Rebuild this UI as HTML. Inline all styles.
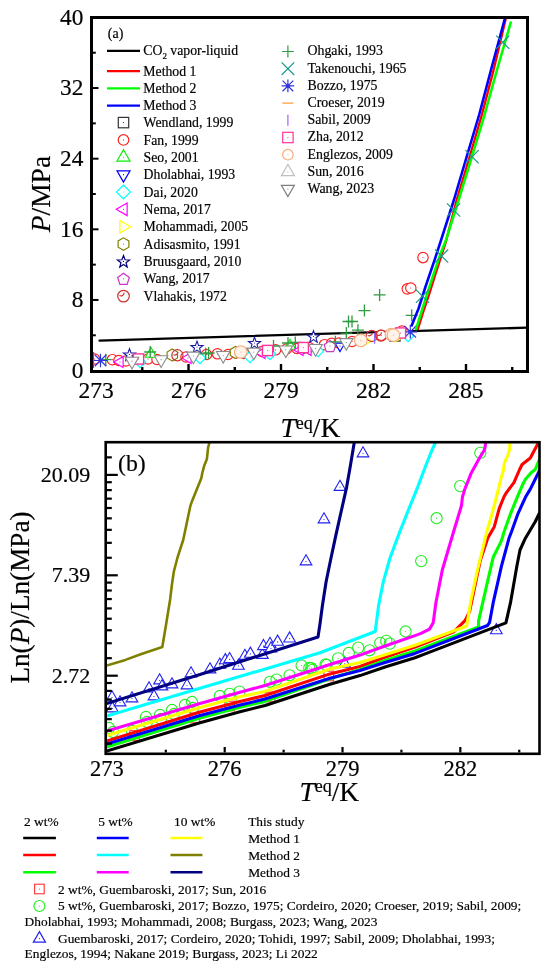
<!DOCTYPE html>
<html><head><meta charset="utf-8"><title>Hydrate equilibrium</title>
<style>html,body{margin:0;padding:0;background:#fff;}svg{display:block;}</style></head>
<body><svg width="550" height="971" viewBox="0 0 550 971" font-family="'Liberation Serif','Times New Roman',serif" fill="#000">
<style>text{stroke:#000;stroke-width:0.18px;paint-order:stroke;}</style>
<rect width="550" height="971" fill="#fff"/>
<clipPath id="ca"><rect x="91.5" y="17.5" width="436" height="354"/></clipPath>
<g clip-path="url(#ca)">
<polyline points="99.6,340.6 527.0,327.6" fill="none" stroke="#000" stroke-width="2.4" stroke-linejoin="round" stroke-linecap="round" />
<rect x="389.90" y="330.90" width="10.20" height="10.20" fill="#fff" stroke="#333333" stroke-width="1.15"/><circle cx="395.00" cy="336.00" r="0.6" fill="#333333"/>
<rect x="294.90" y="342.90" width="10.20" height="10.20" fill="#fff" stroke="#333333" stroke-width="1.15"/><circle cx="300.00" cy="348.00" r="0.6" fill="#333333"/>
<circle cx="94.60" cy="359.00" r="5.20" fill="#fff" stroke="#ff2020" stroke-width="1.15"/><circle cx="94.60" cy="359.00" r="0.6" fill="#ff2020"/>
<circle cx="112.40" cy="359.70" r="5.20" fill="#fff" stroke="#ff2020" stroke-width="1.15"/><circle cx="112.40" cy="359.70" r="0.6" fill="#ff2020"/>
<circle cx="118.90" cy="360.50" r="5.20" fill="#fff" stroke="#ff2020" stroke-width="1.15"/><circle cx="118.90" cy="360.50" r="0.6" fill="#ff2020"/>
<circle cx="148.00" cy="359.00" r="5.20" fill="#fff" stroke="#ff2020" stroke-width="1.15"/><circle cx="148.00" cy="359.00" r="0.6" fill="#ff2020"/>
<circle cx="206.50" cy="354.50" r="5.20" fill="#fff" stroke="#ff2020" stroke-width="1.15"/><circle cx="206.50" cy="354.50" r="0.6" fill="#ff2020"/>
<circle cx="217.40" cy="353.80" r="5.20" fill="#fff" stroke="#ff2020" stroke-width="1.15"/><circle cx="217.40" cy="353.80" r="0.6" fill="#ff2020"/>
<circle cx="275.60" cy="349.80" r="5.20" fill="#fff" stroke="#ff2020" stroke-width="1.15"/><circle cx="275.60" cy="349.80" r="0.6" fill="#ff2020"/>
<circle cx="286.50" cy="349.00" r="5.20" fill="#fff" stroke="#ff2020" stroke-width="1.15"/><circle cx="286.50" cy="349.00" r="0.6" fill="#ff2020"/>
<circle cx="324.50" cy="344.70" r="5.20" fill="#fff" stroke="#ff2020" stroke-width="1.15"/><circle cx="324.50" cy="344.70" r="0.6" fill="#ff2020"/>
<circle cx="331.70" cy="343.30" r="5.20" fill="#fff" stroke="#ff2020" stroke-width="1.15"/><circle cx="331.70" cy="343.30" r="0.6" fill="#ff2020"/>
<circle cx="339.00" cy="343.00" r="5.20" fill="#fff" stroke="#ff2020" stroke-width="1.15"/><circle cx="339.00" cy="343.00" r="0.6" fill="#ff2020"/>
<circle cx="381.20" cy="335.30" r="5.20" fill="#fff" stroke="#ff2020" stroke-width="1.15"/><circle cx="381.20" cy="335.30" r="0.6" fill="#ff2020"/>
<circle cx="402.00" cy="331.00" r="5.20" fill="#fff" stroke="#ff2020" stroke-width="1.15"/><circle cx="402.00" cy="331.00" r="0.6" fill="#ff2020"/>
<circle cx="423.00" cy="257.60" r="5.20" fill="#fff" stroke="#ff2020" stroke-width="1.15"/><circle cx="423.00" cy="257.60" r="0.6" fill="#ff2020"/>
<circle cx="407.30" cy="288.90" r="5.20" fill="#fff" stroke="#ff2020" stroke-width="1.15"/><circle cx="407.30" cy="288.90" r="0.6" fill="#ff2020"/>
<circle cx="410.80" cy="288.00" r="5.20" fill="#fff" stroke="#ff2020" stroke-width="1.15"/><circle cx="410.80" cy="288.00" r="0.6" fill="#ff2020"/>
<circle cx="262.00" cy="351.50" r="5.20" fill="#fff" stroke="#ff2020" stroke-width="1.15"/><circle cx="262.00" cy="351.50" r="0.6" fill="#ff2020"/>
<circle cx="297.00" cy="348.50" r="5.20" fill="#fff" stroke="#ff2020" stroke-width="1.15"/><circle cx="297.00" cy="348.50" r="0.6" fill="#ff2020"/>
<circle cx="309.00" cy="347.50" r="5.20" fill="#fff" stroke="#ff2020" stroke-width="1.15"/><circle cx="309.00" cy="347.50" r="0.6" fill="#ff2020"/>
<circle cx="244.00" cy="353.50" r="5.20" fill="#fff" stroke="#ff2020" stroke-width="1.15"/><circle cx="244.00" cy="353.50" r="0.6" fill="#ff2020"/>
<circle cx="228.00" cy="354.50" r="5.20" fill="#fff" stroke="#ff2020" stroke-width="1.15"/><circle cx="228.00" cy="354.50" r="0.6" fill="#ff2020"/>
<circle cx="186.00" cy="357.00" r="5.20" fill="#fff" stroke="#ff2020" stroke-width="1.15"/><circle cx="186.00" cy="357.00" r="0.6" fill="#ff2020"/>
<circle cx="157.00" cy="359.50" r="5.20" fill="#fff" stroke="#ff2020" stroke-width="1.15"/><circle cx="157.00" cy="359.50" r="0.6" fill="#ff2020"/>
<circle cx="126.00" cy="361.00" r="5.20" fill="#fff" stroke="#ff2020" stroke-width="1.15"/><circle cx="126.00" cy="361.00" r="0.6" fill="#ff2020"/>
<circle cx="352.00" cy="341.50" r="5.20" fill="#fff" stroke="#ff2020" stroke-width="1.15"/><circle cx="352.00" cy="341.50" r="0.6" fill="#ff2020"/>
<circle cx="236.00" cy="353.00" r="5.20" fill="#fff" stroke="#ff2020" stroke-width="1.15"/><circle cx="236.00" cy="353.00" r="0.6" fill="#ff2020"/>
<polygon points="151.00,347.50 156.63,357.25 145.37,357.25" fill="#fff" stroke="#00ee00" stroke-width="1.15" stroke-linejoin="miter"/><circle cx="151.00" cy="354.00" r="0.6" fill="#00ee00"/>
<polygon points="290.00,339.50 295.63,349.25 284.37,349.25" fill="#fff" stroke="#00ee00" stroke-width="1.15" stroke-linejoin="miter"/><circle cx="290.00" cy="346.00" r="0.6" fill="#00ee00"/>
<polygon points="340.00,351.62 335.13,343.19 344.87,343.19" fill="#fff" stroke="#0000ff" stroke-width="1.15" stroke-linejoin="miter"/><circle cx="340.00" cy="346.00" r="0.6" fill="#0000ff"/>
<polygon points="408.00,330.24 413.76,336.00 408.00,341.76 402.24,336.00" fill="#fff" stroke="#00ffff" stroke-width="1.15"/><circle cx="408.00" cy="336.00" r="0.6" fill="#00ffff"/>
<polygon points="270.00,348.24 275.76,354.00 270.00,359.76 264.24,354.00" fill="#fff" stroke="#00ffff" stroke-width="1.15"/><circle cx="270.00" cy="354.00" r="0.6" fill="#00ffff"/>
<polygon points="318.00,345.24 323.76,351.00 318.00,356.76 312.24,351.00" fill="#fff" stroke="#00ffff" stroke-width="1.15"/><circle cx="318.00" cy="351.00" r="0.6" fill="#00ffff"/>
<polygon points="250.00,351.24 255.76,357.00 250.00,362.76 244.24,357.00" fill="#fff" stroke="#00ffff" stroke-width="1.15"/><circle cx="250.00" cy="357.00" r="0.6" fill="#00ffff"/>
<polygon points="200.00,352.24 205.76,358.00 200.00,363.76 194.24,358.00" fill="#fff" stroke="#00ffff" stroke-width="1.15"/><circle cx="200.00" cy="358.00" r="0.6" fill="#00ffff"/>
<polygon points="140.00,356.24 145.76,362.00 140.00,367.76 134.24,362.00" fill="#fff" stroke="#00ffff" stroke-width="1.15"/><circle cx="140.00" cy="362.00" r="0.6" fill="#00ffff"/>
<polygon points="293.75,350.00 303.12,344.59 303.12,355.41" fill="#fff" stroke="#ff00ff" stroke-width="1.15" stroke-linejoin="miter"/><circle cx="300.00" cy="350.00" r="0.6" fill="#ff00ff"/>
<polygon points="255.75,353.00 265.12,347.59 265.12,358.41" fill="#fff" stroke="#ff00ff" stroke-width="1.15" stroke-linejoin="miter"/><circle cx="262.00" cy="353.00" r="0.6" fill="#ff00ff"/>
<polygon points="301.75,350.00 311.12,344.59 311.12,355.41" fill="#fff" stroke="#ff00ff" stroke-width="1.15" stroke-linejoin="miter"/><circle cx="308.00" cy="350.00" r="0.6" fill="#ff00ff"/>
<polygon points="181.75,358.00 191.12,352.59 191.12,363.41" fill="#fff" stroke="#ff00ff" stroke-width="1.15" stroke-linejoin="miter"/><circle cx="188.00" cy="358.00" r="0.6" fill="#ff00ff"/>
<polygon points="113.75,362.00 123.12,356.59 123.12,367.41" fill="#fff" stroke="#ff00ff" stroke-width="1.15" stroke-linejoin="miter"/><circle cx="120.00" cy="362.00" r="0.6" fill="#ff00ff"/>
<polygon points="371.62,341.00 363.19,345.87 363.19,336.13" fill="#fff" stroke="#ffff00" stroke-width="1.15" stroke-linejoin="miter"/><circle cx="366.00" cy="341.00" r="0.6" fill="#ffff00"/>
<polygon points="403.62,337.00 395.19,341.87 395.19,332.13" fill="#fff" stroke="#ffff00" stroke-width="1.15" stroke-linejoin="miter"/><circle cx="398.00" cy="337.00" r="0.6" fill="#ffff00"/>
<polygon points="172.30,361.00 167.10,358.00 167.10,352.00 172.30,349.00 177.50,352.00 177.50,358.00" fill="#fff" stroke="#808000" stroke-width="1.15"/><circle cx="172.30" cy="355.00" r="0.6" fill="#808000"/>
<polygon points="235.50,358.40 230.30,355.40 230.30,349.40 235.50,346.40 240.70,349.40 240.70,355.40" fill="#fff" stroke="#808000" stroke-width="1.15"/><circle cx="235.50" cy="352.40" r="0.6" fill="#808000"/>
<polygon points="129.50,348.64 131.06,352.86 135.55,353.03 132.02,355.82 133.24,360.15 129.50,357.65 125.76,360.15 126.98,355.82 123.45,353.03 127.94,352.86" fill="#fff" stroke="#1a1aa0" stroke-width="1.1"/><circle cx="129.50" cy="354.50" r="0.6" fill="#1a1aa0"/>
<polygon points="197.00,341.14 198.56,345.36 203.05,345.53 199.52,348.32 200.74,352.65 197.00,350.15 193.26,352.65 194.48,348.32 190.95,345.53 195.44,345.36" fill="#fff" stroke="#1a1aa0" stroke-width="1.1"/><circle cx="197.00" cy="347.00" r="0.6" fill="#1a1aa0"/>
<polygon points="254.50,337.14 256.06,341.36 260.55,341.53 257.02,344.32 258.24,348.65 254.50,346.15 250.76,348.65 251.98,344.32 248.45,341.53 252.94,341.36" fill="#fff" stroke="#1a1aa0" stroke-width="1.1"/><circle cx="254.50" cy="343.00" r="0.6" fill="#1a1aa0"/>
<polygon points="313.50,330.64 315.06,334.86 319.55,335.03 316.02,337.82 317.24,342.15 313.50,339.65 309.76,342.15 310.98,337.82 307.45,335.03 311.94,334.86" fill="#fff" stroke="#1a1aa0" stroke-width="1.1"/><circle cx="313.50" cy="336.50" r="0.6" fill="#1a1aa0"/>
<polygon points="330.00,340.44 335.86,344.70 333.62,351.58 326.38,351.58 324.14,344.70" fill="#fff" stroke="#c040c0" stroke-width="1.15"/><circle cx="330.00" cy="346.00" r="0.6" fill="#c040c0"/>
<circle cx="177.40" cy="355.30" r="5.60" fill="none" stroke="#cc3333" stroke-width="1.15"/><path d="M173.48,354.74 A3.08,3.08 0 0 0 177.96,351.94" fill="none" stroke="#cc3333" stroke-width="1.15"/>
<circle cx="371.70" cy="336.00" r="5.60" fill="none" stroke="#cc3333" stroke-width="1.15"/><path d="M367.78,335.44 A3.08,3.08 0 0 0 372.26,332.64" fill="none" stroke="#cc3333" stroke-width="1.15"/>
<circle cx="380.90" cy="335.60" r="5.60" fill="none" stroke="#cc3333" stroke-width="1.15"/><path d="M376.98,335.04 A3.08,3.08 0 0 0 381.46,332.24" fill="none" stroke="#cc3333" stroke-width="1.15"/>
<path d="M99.80,359.70H111.80M105.80,353.70V365.70" stroke="#2e9b3e" stroke-width="1.3"/>
<path d="M144.20,352.00H156.20M150.20,346.00V358.00" stroke="#2e9b3e" stroke-width="1.3"/>
<path d="M199.70,353.80H211.70M205.70,347.80V359.80" stroke="#2e9b3e" stroke-width="1.3"/>
<path d="M202.60,353.00H214.60M208.60,347.00V359.00" stroke="#2e9b3e" stroke-width="1.3"/>
<path d="M267.50,346.00H279.50M273.50,340.00V352.00" stroke="#2e9b3e" stroke-width="1.3"/>
<path d="M282.00,343.00H294.00M288.00,337.00V349.00" stroke="#2e9b3e" stroke-width="1.3"/>
<path d="M289.30,342.50H301.30M295.30,336.50V348.50" stroke="#2e9b3e" stroke-width="1.3"/>
<path d="M329.40,341.80H341.40M335.40,335.80V347.80" stroke="#2e9b3e" stroke-width="1.3"/>
<path d="M340.30,333.10H352.30M346.30,327.10V339.10" stroke="#2e9b3e" stroke-width="1.3"/>
<path d="M351.90,330.20H363.90M357.90,324.20V336.20" stroke="#2e9b3e" stroke-width="1.3"/>
<path d="M342.50,321.50H354.50M348.50,315.50V327.50" stroke="#2e9b3e" stroke-width="1.3"/>
<path d="M346.00,321.50H358.00M352.00,315.50V327.50" stroke="#2e9b3e" stroke-width="1.3"/>
<path d="M358.40,310.60H370.40M364.40,304.60V316.60" stroke="#2e9b3e" stroke-width="1.3"/>
<path d="M373.60,294.90H385.60M379.60,288.90V300.90" stroke="#2e9b3e" stroke-width="1.3"/>
<path d="M405.70,315.30H417.70M411.70,309.30V321.30" stroke="#2e9b3e" stroke-width="1.3"/>
<path d="M93.70,360.50H107.30M100.50,353.70V367.30M94.72,354.72L106.28,366.28M94.72,366.28L106.28,354.72" stroke="#3333dd" stroke-width="1.2"/><circle cx="100.50" cy="360.50" r="2" fill="#3333dd"/>
<path d="M403.50,331.80H417.10M410.30,325.00V338.60M404.52,326.02L416.08,337.58M404.52,337.58L416.08,326.02" stroke="#3333dd" stroke-width="1.2"/><circle cx="410.30" cy="331.80" r="2" fill="#3333dd"/>
<path d="M374.60,332.70V343.70" stroke="#9966ff" stroke-width="1.3"/>
<rect x="133.40" y="353.90" width="10.20" height="10.20" fill="#fff" stroke="#ff3399" stroke-width="1.4"/><circle cx="138.50" cy="359.00" r="0.6" fill="#ff3399"/>
<rect x="262.50" y="345.40" width="10.20" height="10.20" fill="#fff" stroke="#ff3399" stroke-width="1.4"/><circle cx="267.60" cy="350.50" r="0.6" fill="#ff3399"/>
<rect x="298.20" y="342.50" width="10.20" height="10.20" fill="#fff" stroke="#ff3399" stroke-width="1.4"/><circle cx="303.30" cy="347.60" r="0.6" fill="#ff3399"/>
<rect x="395.40" y="327.90" width="10.20" height="10.20" fill="#fff" stroke="#ff3399" stroke-width="1.4"/><circle cx="400.50" cy="333.00" r="0.6" fill="#ff3399"/>
<circle cx="240.70" cy="352.00" r="6.30" fill="#fff2e8" stroke="#f5a878" stroke-width="1.1"/><circle cx="240.70" cy="352.00" r="0.6" fill="#f5a878"/>
<circle cx="360.80" cy="340.40" r="6.30" fill="#fff2e8" stroke="#f5a878" stroke-width="1.1"/><circle cx="360.80" cy="340.40" r="0.6" fill="#f5a878"/>
<circle cx="391.40" cy="334.50" r="6.30" fill="#fff2e8" stroke="#f5a878" stroke-width="1.1"/><circle cx="391.40" cy="334.50" r="0.6" fill="#f5a878"/>
<circle cx="393.40" cy="335.10" r="6.30" fill="#fff2e8" stroke="#f5a878" stroke-width="1.1"/><circle cx="393.40" cy="335.10" r="0.6" fill="#f5a878"/>
<polygon points="132.00,368.95 125.29,357.32 138.71,357.32" fill="#fff" stroke="#8a8a8a" stroke-width="1.1" stroke-linejoin="miter"/><circle cx="132.00" cy="361.20" r="0.6" fill="#8a8a8a"/>
<polygon points="161.10,367.45 154.39,355.82 167.81,355.82" fill="#fff" stroke="#8a8a8a" stroke-width="1.1" stroke-linejoin="miter"/><circle cx="161.10" cy="359.70" r="0.6" fill="#8a8a8a"/>
<polygon points="193.40,363.75 186.69,352.12 200.11,352.12" fill="#fff" stroke="#8a8a8a" stroke-width="1.1" stroke-linejoin="miter"/><circle cx="193.40" cy="356.00" r="0.6" fill="#8a8a8a"/>
<polygon points="223.20,363.05 216.49,351.43 229.91,351.43" fill="#fff" stroke="#8a8a8a" stroke-width="1.1" stroke-linejoin="miter"/><circle cx="223.20" cy="355.30" r="0.6" fill="#8a8a8a"/>
<polygon points="253.80,359.75 247.09,348.12 260.51,348.12" fill="#fff" stroke="#8a8a8a" stroke-width="1.1" stroke-linejoin="miter"/><circle cx="253.80" cy="352.00" r="0.6" fill="#8a8a8a"/>
<polygon points="285.80,357.55 279.09,345.93 292.51,345.93" fill="#fff" stroke="#8a8a8a" stroke-width="1.1" stroke-linejoin="miter"/><circle cx="285.80" cy="349.80" r="0.6" fill="#8a8a8a"/>
<polygon points="315.60,356.15 308.89,344.52 322.31,344.52" fill="#fff" stroke="#8a8a8a" stroke-width="1.1" stroke-linejoin="miter"/><circle cx="315.60" cy="348.40" r="0.6" fill="#8a8a8a"/>
<polygon points="346.30,350.25 339.59,338.62 353.01,338.62" fill="#fff" stroke="#8a8a8a" stroke-width="1.1" stroke-linejoin="miter"/><circle cx="346.30" cy="342.50" r="0.6" fill="#8a8a8a"/>
<polyline points="417.9,329.0 423.5,311.0 429.8,292.0 434.5,277.0 440.0,260.0 445.5,243.0 456.7,200.0 469.3,158.0 481.8,115.0 493.7,69.5 505.8,18.5" fill="none" stroke="#ff0000" stroke-width="2.4" stroke-linejoin="round" stroke-linecap="round" />
<polyline points="416.1,329.0 422.5,308.5 429.4,287.0 440.1,254.7 446.0,240.0 458.6,200.0 471.5,158.0 484.5,115.0 497.1,69.5 510.7,22.6" fill="none" stroke="#00ff00" stroke-width="2.6" stroke-linejoin="round" stroke-linecap="round" />
<polyline points="411.7,325.4 418.6,308.5 425.4,287.0 434.7,259.6 441.1,240.0 453.9,200.0 466.3,158.0 479.1,115.0 491.1,69.5 504.2,21.0 505.0,18.5" fill="none" stroke="#0000ff" stroke-width="2.6" stroke-linejoin="round" stroke-linecap="round" />
<path d="M496.20,35.60L509.40,48.80M496.20,48.80L509.40,35.60" stroke="#1a9a8a" stroke-width="1.2"/>
<path d="M465.50,150.20L478.70,163.40M465.50,163.40L478.70,150.20" stroke="#1a9a8a" stroke-width="1.2"/>
<path d="M447.00,203.40L460.20,216.60M447.00,216.60L460.20,203.40" stroke="#1a9a8a" stroke-width="1.2"/>
<path d="M435.00,249.50L448.20,262.70M435.00,262.70L448.20,249.50" stroke="#1a9a8a" stroke-width="1.2"/>
<path d="M415.90,289.70L429.10,302.90M415.90,302.90L429.10,289.70" stroke="#1a9a8a" stroke-width="1.2"/>
<line x1="93.30" y1="352.00" x2="93.30" y2="368.00" stroke="#ff00ff" stroke-width="1.6" stroke-linecap="butt"/>
</g>
<rect x="91.5" y="17.5" width="436.0" height="354.0" fill="none" stroke="#000" stroke-width="3"/>
<line x1="93.00" y1="335.28" x2="95.80" y2="335.28" stroke="#000" stroke-width="2" stroke-linecap="butt"/>
<line x1="93.00" y1="299.96" x2="98.50" y2="299.96" stroke="#000" stroke-width="2" stroke-linecap="butt"/>
<line x1="93.00" y1="264.64" x2="95.80" y2="264.64" stroke="#000" stroke-width="2" stroke-linecap="butt"/>
<line x1="93.00" y1="229.32" x2="98.50" y2="229.32" stroke="#000" stroke-width="2" stroke-linecap="butt"/>
<line x1="93.00" y1="194.00" x2="95.80" y2="194.00" stroke="#000" stroke-width="2" stroke-linecap="butt"/>
<line x1="93.00" y1="158.68" x2="98.50" y2="158.68" stroke="#000" stroke-width="2" stroke-linecap="butt"/>
<line x1="93.00" y1="123.36" x2="95.80" y2="123.36" stroke="#000" stroke-width="2" stroke-linecap="butt"/>
<line x1="93.00" y1="88.04" x2="98.50" y2="88.04" stroke="#000" stroke-width="2" stroke-linecap="butt"/>
<line x1="93.00" y1="52.72" x2="95.80" y2="52.72" stroke="#000" stroke-width="2" stroke-linecap="butt"/>
<line x1="142.28" y1="370.00" x2="142.28" y2="367.00" stroke="#000" stroke-width="2.4" stroke-linecap="butt"/>
<line x1="188.52" y1="370.00" x2="188.52" y2="364.00" stroke="#000" stroke-width="2.4" stroke-linecap="butt"/>
<line x1="234.77" y1="370.00" x2="234.77" y2="367.00" stroke="#000" stroke-width="2.4" stroke-linecap="butt"/>
<line x1="281.01" y1="370.00" x2="281.01" y2="364.00" stroke="#000" stroke-width="2.4" stroke-linecap="butt"/>
<line x1="327.25" y1="370.00" x2="327.25" y2="367.00" stroke="#000" stroke-width="2.4" stroke-linecap="butt"/>
<line x1="373.50" y1="370.00" x2="373.50" y2="364.00" stroke="#000" stroke-width="2.4" stroke-linecap="butt"/>
<line x1="419.75" y1="370.00" x2="419.75" y2="367.00" stroke="#000" stroke-width="2.4" stroke-linecap="butt"/>
<line x1="465.99" y1="370.00" x2="465.99" y2="364.00" stroke="#000" stroke-width="2.4" stroke-linecap="butt"/>
<line x1="512.24" y1="370.00" x2="512.24" y2="367.00" stroke="#000" stroke-width="2.4" stroke-linecap="butt"/>
<text x="83.30" y="377.90" font-size="23.3" text-anchor="end" >0</text>
<text x="83.30" y="307.26" font-size="23.3" text-anchor="end" >8</text>
<text x="83.30" y="236.62" font-size="23.3" text-anchor="end" >16</text>
<text x="83.30" y="165.98" font-size="23.3" text-anchor="end" >24</text>
<text x="83.30" y="95.34" font-size="23.3" text-anchor="end" >32</text>
<text x="83.30" y="24.70" font-size="23.3" text-anchor="end" >40</text>
<text x="96.03" y="398.30" font-size="23.5" text-anchor="middle" >273</text>
<text x="188.52" y="398.30" font-size="23.5" text-anchor="middle" >276</text>
<text x="281.01" y="398.30" font-size="23.5" text-anchor="middle" >279</text>
<text x="373.50" y="398.30" font-size="23.5" text-anchor="middle" >282</text>
<text x="465.99" y="398.30" font-size="23.5" text-anchor="middle" >285</text>
<text transform="translate(49.5,194.1) rotate(-90)" font-size="27.5" text-anchor="middle"><tspan font-style="italic">P</tspan>/MPa</text>
<text x="280.5" y="436.8" font-size="27.5"><tspan font-style="italic">T</tspan><tspan font-size="18" dy="-8.3">eq</tspan><tspan dy="8.3">/K</tspan></text>
<text x="107.80" y="37.80" font-size="14" text-anchor="start" >(a)</text>
<line x1="107.00" y1="50.90" x2="140.00" y2="50.90" stroke="#000" stroke-width="2.2" stroke-linecap="butt"/>
<line x1="107.00" y1="71.10" x2="140.00" y2="71.10" stroke="#ff0000" stroke-width="2.2" stroke-linecap="butt"/>
<line x1="107.00" y1="88.30" x2="140.00" y2="88.30" stroke="#00ff00" stroke-width="2.2" stroke-linecap="butt"/>
<line x1="107.00" y1="105.70" x2="140.00" y2="105.70" stroke="#0000ff" stroke-width="2.2" stroke-linecap="butt"/>
<text x="143.3" y="55.3" font-size="13.75">CO<tspan font-size="9" dy="3.8">2</tspan><tspan dy="-3.8"> vapor-liquid</tspan></text>
<text x="143.30" y="75.50" font-size="13.75" text-anchor="start" >Method 1</text>
<text x="143.30" y="92.90" font-size="13.75" text-anchor="start" >Method 2</text>
<text x="143.30" y="110.40" font-size="13.75" text-anchor="start" >Method 3</text>
<rect x="118.30" y="117.40" width="10.40" height="10.40" fill="none" stroke="#333333" stroke-width="1.2"/><circle cx="123.50" cy="122.60" r="0.6" fill="#333333"/>
<text x="143.60" y="127.20" font-size="13.75" text-anchor="start" >Wendland, 1999</text>
<circle cx="123.50" cy="139.95" r="5.30" fill="none" stroke="#ff2020" stroke-width="1.2"/><circle cx="123.50" cy="139.95" r="0.6" fill="#ff2020"/>
<text x="143.60" y="144.55" font-size="13.75" text-anchor="start" >Fan, 1999</text>
<polygon points="123.50,149.80 130.00,161.05 117.00,161.05" fill="none" stroke="#00ee00" stroke-width="1.2" stroke-linejoin="miter"/><circle cx="123.50" cy="157.30" r="0.6" fill="#00ee00"/>
<text x="143.60" y="161.90" font-size="13.75" text-anchor="start" >Seo, 2001</text>
<polygon points="123.50,182.15 117.00,170.90 130.00,170.90" fill="none" stroke="#0000ff" stroke-width="1.2" stroke-linejoin="miter"/><circle cx="123.50" cy="174.65" r="0.6" fill="#0000ff"/>
<text x="143.60" y="179.25" font-size="13.75" text-anchor="start" >Dholabhai, 1993</text>
<polygon points="123.50,185.04 130.46,192.00 123.50,198.96 116.54,192.00" fill="none" stroke="#00ffff" stroke-width="1.2"/><circle cx="123.50" cy="192.00" r="0.6" fill="#00ffff"/>
<text x="143.60" y="196.60" font-size="13.75" text-anchor="start" >Dai, 2020</text>
<polygon points="116.25,209.35 127.12,203.07 127.12,215.63" fill="none" stroke="#ff00ff" stroke-width="1.2" stroke-linejoin="miter"/><circle cx="123.50" cy="209.35" r="0.6" fill="#ff00ff"/>
<text x="143.60" y="213.95" font-size="13.75" text-anchor="start" >Nema, 2017</text>
<polygon points="130.75,226.70 119.88,232.98 119.88,220.42" fill="none" stroke="#ffff00" stroke-width="1.2" stroke-linejoin="miter"/><circle cx="123.50" cy="226.70" r="0.6" fill="#ffff00"/>
<text x="143.60" y="231.30" font-size="13.75" text-anchor="start" >Mohammadi, 2005</text>
<polygon points="123.50,250.25 118.13,247.15 118.13,240.95 123.50,237.85 128.87,240.95 128.87,247.15" fill="none" stroke="#808000" stroke-width="1.2"/><circle cx="123.50" cy="244.05" r="0.6" fill="#808000"/>
<text x="143.60" y="248.65" font-size="13.75" text-anchor="start" >Adisasmito, 1991</text>
<polygon points="123.50,255.54 125.06,259.76 129.55,259.93 126.02,262.72 127.24,267.05 123.50,264.55 119.76,267.05 120.98,262.72 117.45,259.93 121.94,259.76" fill="none" stroke="#000080" stroke-width="1.2"/><circle cx="123.50" cy="261.40" r="0.6" fill="#000080"/>
<text x="143.60" y="266.00" font-size="13.75" text-anchor="start" >Bruusgaard, 2010</text>
<polygon points="123.50,273.19 129.36,277.45 127.12,284.33 119.88,284.33 117.64,277.45" fill="none" stroke="#cc33cc" stroke-width="1.2"/><circle cx="123.50" cy="278.75" r="0.6" fill="#cc33cc"/>
<text x="143.60" y="283.35" font-size="13.75" text-anchor="start" >Wang, 2017</text>
<circle cx="123.50" cy="296.10" r="5.80" fill="none" stroke="#cc3333" stroke-width="1.2"/><path d="M119.44,295.52 A3.19,3.19 0 0 0 124.08,292.62" fill="none" stroke="#cc3333" stroke-width="1.2"/>
<text x="143.60" y="300.70" font-size="13.75" text-anchor="start" >Vlahakis, 1972</text>
<path d="M281.90,51.50H293.90M287.90,45.50V57.50" stroke="#2e9b3e" stroke-width="1.2"/>
<text x="307.50" y="55.40" font-size="13.85" text-anchor="start" >Ohgaki, 1993</text>
<path d="M281.60,62.40L294.20,75.00M281.60,75.00L294.20,62.40" stroke="#1a9a8a" stroke-width="1.2"/>
<text x="307.50" y="72.60" font-size="13.85" text-anchor="start" >Takenouchi, 1965</text>
<path d="M281.60,85.90H294.20M287.90,79.60V92.20M282.54,80.55L293.25,91.26M282.54,91.26L293.25,80.55" stroke="#3333dd" stroke-width="1.2"/><circle cx="287.90" cy="85.90" r="2" fill="#3333dd"/>
<text x="307.50" y="89.80" font-size="13.85" text-anchor="start" >Bozzo, 1975</text>
<path d="M282.40,103.10H293.40" stroke="#ff9933" stroke-width="1.2"/>
<text x="307.50" y="107.00" font-size="13.85" text-anchor="start" >Croeser, 2019</text>
<path d="M287.90,114.80V125.80" stroke="#9966ff" stroke-width="1.2"/>
<text x="307.50" y="124.20" font-size="13.85" text-anchor="start" >Sabil, 2009</text>
<rect x="282.70" y="132.30" width="10.40" height="10.40" fill="none" stroke="#ff3399" stroke-width="1.2"/><circle cx="287.90" cy="137.50" r="0.6" fill="#ff3399"/>
<text x="307.50" y="141.40" font-size="13.85" text-anchor="start" >Zha, 2012</text>
<circle cx="287.90" cy="154.70" r="5.30" fill="none" stroke="#ffaa77" stroke-width="1.2"/><circle cx="287.90" cy="154.70" r="0.6" fill="#ffaa77"/>
<text x="307.50" y="158.60" font-size="13.85" text-anchor="start" >Englezos, 2009</text>
<polygon points="287.90,164.40 294.40,175.65 281.40,175.65" fill="none" stroke="#c0c0c0" stroke-width="1.2" stroke-linejoin="miter"/><circle cx="287.90" cy="171.90" r="0.6" fill="#c0c0c0"/>
<text x="307.50" y="175.80" font-size="13.85" text-anchor="start" >Sun, 2016</text>
<polygon points="287.90,196.60 281.40,185.35 294.40,185.35" fill="none" stroke="#808080" stroke-width="1.2" stroke-linejoin="miter"/><circle cx="287.90" cy="189.10" r="0.6" fill="#808080"/>
<text x="307.50" y="193.00" font-size="13.85" text-anchor="start" >Wang, 2023</text>
<clipPath id="cb"><rect x="105.7" y="442.2" width="433.8" height="311.6"/></clipPath>
<g clip-path="url(#cb)">
<polygon points="112.00,690.75 117.85,700.88 106.15,700.88" fill="#fff" stroke="#2222ee" stroke-width="1.1" stroke-linejoin="miter"/><circle cx="112.00" cy="697.50" r="0.6" fill="#2222ee"/>
<polygon points="112.40,701.75 118.25,711.88 106.55,711.88" fill="#fff" stroke="#2222ee" stroke-width="1.1" stroke-linejoin="miter"/><circle cx="112.40" cy="708.50" r="0.6" fill="#2222ee"/>
<polygon points="120.00,695.75 125.85,705.88 114.15,705.88" fill="#fff" stroke="#2222ee" stroke-width="1.1" stroke-linejoin="miter"/><circle cx="120.00" cy="702.50" r="0.6" fill="#2222ee"/>
<polygon points="132.00,691.75 137.85,701.88 126.15,701.88" fill="#fff" stroke="#2222ee" stroke-width="1.1" stroke-linejoin="miter"/><circle cx="132.00" cy="698.50" r="0.6" fill="#2222ee"/>
<polygon points="149.00,681.75 154.85,691.88 143.15,691.88" fill="#fff" stroke="#2222ee" stroke-width="1.1" stroke-linejoin="miter"/><circle cx="149.00" cy="688.50" r="0.6" fill="#2222ee"/>
<polygon points="154.00,689.75 159.85,699.88 148.15,699.88" fill="#fff" stroke="#2222ee" stroke-width="1.1" stroke-linejoin="miter"/><circle cx="154.00" cy="696.50" r="0.6" fill="#2222ee"/>
<polygon points="159.60,673.75 165.45,683.88 153.75,683.88" fill="#fff" stroke="#2222ee" stroke-width="1.1" stroke-linejoin="miter"/><circle cx="159.60" cy="680.50" r="0.6" fill="#2222ee"/>
<polygon points="162.00,679.75 167.85,689.88 156.15,689.88" fill="#fff" stroke="#2222ee" stroke-width="1.1" stroke-linejoin="miter"/><circle cx="162.00" cy="686.50" r="0.6" fill="#2222ee"/>
<polygon points="172.00,677.75 177.85,687.88 166.15,687.88" fill="#fff" stroke="#2222ee" stroke-width="1.1" stroke-linejoin="miter"/><circle cx="172.00" cy="684.50" r="0.6" fill="#2222ee"/>
<polygon points="187.00,678.75 192.85,688.88 181.15,688.88" fill="#fff" stroke="#2222ee" stroke-width="1.1" stroke-linejoin="miter"/><circle cx="187.00" cy="685.50" r="0.6" fill="#2222ee"/>
<polygon points="191.00,666.75 196.85,676.88 185.15,676.88" fill="#fff" stroke="#2222ee" stroke-width="1.1" stroke-linejoin="miter"/><circle cx="191.00" cy="673.50" r="0.6" fill="#2222ee"/>
<polygon points="210.00,662.75 215.85,672.88 204.15,672.88" fill="#fff" stroke="#2222ee" stroke-width="1.1" stroke-linejoin="miter"/><circle cx="210.00" cy="669.50" r="0.6" fill="#2222ee"/>
<polygon points="219.80,658.05 225.65,668.17 213.95,668.17" fill="#fff" stroke="#2222ee" stroke-width="1.1" stroke-linejoin="miter"/><circle cx="219.80" cy="664.80" r="0.6" fill="#2222ee"/>
<polygon points="225.30,653.65 231.15,663.77 219.45,663.77" fill="#fff" stroke="#2222ee" stroke-width="1.1" stroke-linejoin="miter"/><circle cx="225.30" cy="660.40" r="0.6" fill="#2222ee"/>
<polygon points="229.60,652.55 235.45,662.67 223.75,662.67" fill="#fff" stroke="#2222ee" stroke-width="1.1" stroke-linejoin="miter"/><circle cx="229.60" cy="659.30" r="0.6" fill="#2222ee"/>
<polygon points="238.40,659.15 244.25,669.27 232.55,669.27" fill="#fff" stroke="#2222ee" stroke-width="1.1" stroke-linejoin="miter"/><circle cx="238.40" cy="665.90" r="0.6" fill="#2222ee"/>
<polygon points="244.90,649.25 250.75,659.38 239.05,659.38" fill="#fff" stroke="#2222ee" stroke-width="1.1" stroke-linejoin="miter"/><circle cx="244.90" cy="656.00" r="0.6" fill="#2222ee"/>
<polygon points="250.40,647.15 256.25,657.27 244.55,657.27" fill="#fff" stroke="#2222ee" stroke-width="1.1" stroke-linejoin="miter"/><circle cx="250.40" cy="653.90" r="0.6" fill="#2222ee"/>
<polygon points="262.40,648.25 268.25,658.38 256.55,658.38" fill="#fff" stroke="#2222ee" stroke-width="1.1" stroke-linejoin="miter"/><circle cx="262.40" cy="655.00" r="0.6" fill="#2222ee"/>
<polygon points="263.50,639.45 269.35,649.58 257.65,649.58" fill="#fff" stroke="#2222ee" stroke-width="1.1" stroke-linejoin="miter"/><circle cx="263.50" cy="646.20" r="0.6" fill="#2222ee"/>
<polygon points="270.00,637.25 275.85,647.38 264.15,647.38" fill="#fff" stroke="#2222ee" stroke-width="1.1" stroke-linejoin="miter"/><circle cx="270.00" cy="644.00" r="0.6" fill="#2222ee"/>
<polygon points="271.00,641.75 276.85,651.88 265.15,651.88" fill="#fff" stroke="#2222ee" stroke-width="1.1" stroke-linejoin="miter"/><circle cx="271.00" cy="648.50" r="0.6" fill="#2222ee"/>
<polygon points="277.60,635.15 283.45,645.27 271.75,645.27" fill="#fff" stroke="#2222ee" stroke-width="1.1" stroke-linejoin="miter"/><circle cx="277.60" cy="641.90" r="0.6" fill="#2222ee"/>
<polygon points="289.60,631.85 295.45,641.98 283.75,641.98" fill="#fff" stroke="#2222ee" stroke-width="1.1" stroke-linejoin="miter"/><circle cx="289.60" cy="638.60" r="0.6" fill="#2222ee"/>
<polygon points="306.00,554.75 311.85,564.88 300.15,564.88" fill="#fff" stroke="#2222ee" stroke-width="1.1" stroke-linejoin="miter"/><circle cx="306.00" cy="561.50" r="0.6" fill="#2222ee"/>
<polygon points="324.00,512.75 329.85,522.88 318.15,522.88" fill="#fff" stroke="#2222ee" stroke-width="1.1" stroke-linejoin="miter"/><circle cx="324.00" cy="519.50" r="0.6" fill="#2222ee"/>
<polygon points="340.00,480.25 345.85,490.38 334.15,490.38" fill="#fff" stroke="#2222ee" stroke-width="1.1" stroke-linejoin="miter"/><circle cx="340.00" cy="487.00" r="0.6" fill="#2222ee"/>
<polygon points="363.00,446.75 368.85,456.88 357.15,456.88" fill="#fff" stroke="#2222ee" stroke-width="1.1" stroke-linejoin="miter"/><circle cx="363.00" cy="453.50" r="0.6" fill="#2222ee"/>
<polygon points="344.80,657.05 350.65,667.17 338.95,667.17" fill="#fff" stroke="#2222ee" stroke-width="1.1" stroke-linejoin="miter"/><circle cx="344.80" cy="663.80" r="0.6" fill="#2222ee"/>
<polygon points="496.30,623.65 502.15,633.77 490.45,633.77" fill="#fff" stroke="#2222ee" stroke-width="1.1" stroke-linejoin="miter"/><circle cx="496.30" cy="630.40" r="0.6" fill="#2222ee"/>
<circle cx="109.00" cy="728.00" r="5.60" fill="none" stroke="#22ee22" stroke-width="1.1"/><circle cx="109.00" cy="728.00" r="0.6" fill="#22ee22"/>
<circle cx="113.00" cy="732.00" r="5.60" fill="none" stroke="#22ee22" stroke-width="1.1"/><circle cx="113.00" cy="732.00" r="0.6" fill="#22ee22"/>
<circle cx="132.00" cy="731.00" r="5.60" fill="none" stroke="#22ee22" stroke-width="1.1"/><circle cx="132.00" cy="731.00" r="0.6" fill="#22ee22"/>
<circle cx="146.00" cy="717.00" r="5.60" fill="none" stroke="#22ee22" stroke-width="1.1"/><circle cx="146.00" cy="717.00" r="0.6" fill="#22ee22"/>
<circle cx="147.00" cy="722.00" r="5.60" fill="none" stroke="#22ee22" stroke-width="1.1"/><circle cx="147.00" cy="722.00" r="0.6" fill="#22ee22"/>
<circle cx="160.00" cy="715.00" r="5.60" fill="none" stroke="#22ee22" stroke-width="1.1"/><circle cx="160.00" cy="715.00" r="0.6" fill="#22ee22"/>
<circle cx="161.00" cy="719.00" r="5.60" fill="none" stroke="#22ee22" stroke-width="1.1"/><circle cx="161.00" cy="719.00" r="0.6" fill="#22ee22"/>
<circle cx="172.00" cy="710.00" r="5.60" fill="none" stroke="#22ee22" stroke-width="1.1"/><circle cx="172.00" cy="710.00" r="0.6" fill="#22ee22"/>
<circle cx="174.00" cy="714.00" r="5.60" fill="none" stroke="#22ee22" stroke-width="1.1"/><circle cx="174.00" cy="714.00" r="0.6" fill="#22ee22"/>
<circle cx="185.00" cy="705.00" r="5.60" fill="none" stroke="#22ee22" stroke-width="1.1"/><circle cx="185.00" cy="705.00" r="0.6" fill="#22ee22"/>
<circle cx="192.00" cy="702.00" r="5.60" fill="none" stroke="#22ee22" stroke-width="1.1"/><circle cx="192.00" cy="702.00" r="0.6" fill="#22ee22"/>
<circle cx="193.00" cy="708.00" r="5.60" fill="none" stroke="#22ee22" stroke-width="1.1"/><circle cx="193.00" cy="708.00" r="0.6" fill="#22ee22"/>
<circle cx="219.80" cy="696.00" r="5.60" fill="none" stroke="#22ee22" stroke-width="1.1"/><circle cx="219.80" cy="696.00" r="0.6" fill="#22ee22"/>
<circle cx="229.60" cy="693.80" r="5.60" fill="none" stroke="#22ee22" stroke-width="1.1"/><circle cx="229.60" cy="693.80" r="0.6" fill="#22ee22"/>
<circle cx="230.70" cy="699.30" r="5.60" fill="none" stroke="#22ee22" stroke-width="1.1"/><circle cx="230.70" cy="699.30" r="0.6" fill="#22ee22"/>
<circle cx="239.50" cy="691.60" r="5.60" fill="none" stroke="#22ee22" stroke-width="1.1"/><circle cx="239.50" cy="691.60" r="0.6" fill="#22ee22"/>
<circle cx="270.00" cy="681.80" r="5.60" fill="none" stroke="#22ee22" stroke-width="1.1"/><circle cx="270.00" cy="681.80" r="0.6" fill="#22ee22"/>
<circle cx="276.50" cy="679.60" r="5.60" fill="none" stroke="#22ee22" stroke-width="1.1"/><circle cx="276.50" cy="679.60" r="0.6" fill="#22ee22"/>
<circle cx="289.60" cy="675.30" r="5.60" fill="none" stroke="#22ee22" stroke-width="1.1"/><circle cx="289.60" cy="675.30" r="0.6" fill="#22ee22"/>
<circle cx="301.60" cy="665.50" r="5.60" fill="none" stroke="#22ee22" stroke-width="1.1"/><circle cx="301.60" cy="665.50" r="0.6" fill="#22ee22"/>
<circle cx="309.30" cy="668.00" r="5.60" fill="none" stroke="#22ee22" stroke-width="1.1"/><circle cx="309.30" cy="668.00" r="0.6" fill="#22ee22"/>
<circle cx="312.50" cy="669.80" r="5.60" fill="none" stroke="#22ee22" stroke-width="1.1"/><circle cx="312.50" cy="669.80" r="0.6" fill="#22ee22"/>
<circle cx="325.60" cy="664.40" r="5.60" fill="none" stroke="#22ee22" stroke-width="1.1"/><circle cx="325.60" cy="664.40" r="0.6" fill="#22ee22"/>
<circle cx="311.30" cy="668.20" r="5.60" fill="none" stroke="#22ee22" stroke-width="1.1"/><circle cx="311.30" cy="668.20" r="0.6" fill="#22ee22"/>
<circle cx="326.60" cy="665.00" r="5.60" fill="none" stroke="#22ee22" stroke-width="1.1"/><circle cx="326.60" cy="665.00" r="0.6" fill="#22ee22"/>
<circle cx="338.10" cy="658.30" r="5.60" fill="none" stroke="#22ee22" stroke-width="1.1"/><circle cx="338.10" cy="658.30" r="0.6" fill="#22ee22"/>
<circle cx="348.80" cy="653.00" r="5.60" fill="none" stroke="#22ee22" stroke-width="1.1"/><circle cx="348.80" cy="653.00" r="0.6" fill="#22ee22"/>
<circle cx="358.20" cy="647.60" r="5.60" fill="none" stroke="#22ee22" stroke-width="1.1"/><circle cx="358.20" cy="647.60" r="0.6" fill="#22ee22"/>
<circle cx="369.50" cy="650.30" r="5.60" fill="none" stroke="#22ee22" stroke-width="1.1"/><circle cx="369.50" cy="650.30" r="0.6" fill="#22ee22"/>
<circle cx="380.20" cy="642.80" r="5.60" fill="none" stroke="#22ee22" stroke-width="1.1"/><circle cx="380.20" cy="642.80" r="0.6" fill="#22ee22"/>
<circle cx="386.30" cy="640.90" r="5.60" fill="none" stroke="#22ee22" stroke-width="1.1"/><circle cx="386.30" cy="640.90" r="0.6" fill="#22ee22"/>
<circle cx="389.80" cy="643.60" r="5.60" fill="none" stroke="#22ee22" stroke-width="1.1"/><circle cx="389.80" cy="643.60" r="0.6" fill="#22ee22"/>
<circle cx="405.60" cy="631.50" r="5.60" fill="none" stroke="#22ee22" stroke-width="1.1"/><circle cx="405.60" cy="631.50" r="0.6" fill="#22ee22"/>
<circle cx="421.20" cy="561.10" r="5.60" fill="none" stroke="#22ee22" stroke-width="1.1"/><circle cx="421.20" cy="561.10" r="0.6" fill="#22ee22"/>
<circle cx="436.60" cy="518.20" r="5.60" fill="none" stroke="#22ee22" stroke-width="1.1"/><circle cx="436.60" cy="518.20" r="0.6" fill="#22ee22"/>
<circle cx="460.20" cy="486.10" r="5.60" fill="none" stroke="#22ee22" stroke-width="1.1"/><circle cx="460.20" cy="486.10" r="0.6" fill="#22ee22"/>
<circle cx="480.30" cy="452.90" r="5.60" fill="none" stroke="#22ee22" stroke-width="1.1"/><circle cx="480.30" cy="452.90" r="0.6" fill="#22ee22"/>
<rect x="129.70" y="730.70" width="9.60" height="9.60" fill="none" stroke="#ff3333" stroke-width="1.1"/><circle cx="134.50" cy="735.50" r="0.6" fill="#ff3333"/>
<rect x="224.80" y="701.20" width="9.60" height="9.60" fill="none" stroke="#ff3333" stroke-width="1.1"/><circle cx="229.60" cy="706.00" r="0.6" fill="#ff3333"/>
<rect x="265.20" y="692.20" width="9.60" height="9.60" fill="none" stroke="#ff3333" stroke-width="1.1"/><circle cx="270.00" cy="697.00" r="0.6" fill="#ff3333"/>
<rect x="324.00" y="671.20" width="9.60" height="9.60" fill="none" stroke="#ff3333" stroke-width="1.1"/><circle cx="328.80" cy="676.00" r="0.6" fill="#ff3333"/>
<rect x="190.20" y="713.20" width="9.60" height="9.60" fill="none" stroke="#ff3333" stroke-width="1.1"/><circle cx="195.00" cy="718.00" r="0.6" fill="#ff3333"/>
<polyline points="105.0,666.0 125.4,659.9 140.7,654.3 162.3,647.0 166.0,625.0 170.2,599.0 171.8,585.5 173.8,571.8 177.3,558.2 183.2,540.0 190.3,506.2 191.6,502.3 201.3,478.2 202.3,473.0 204.3,465.4 206.9,459.0 208.1,447.6 209.9,441.0" fill="none" stroke="#808000" stroke-width="2.6" stroke-linejoin="round" stroke-linecap="round" />
<polyline points="105.0,704.0 200.0,674.4 318.0,637.1 319.9,624.4 322.5,605.0 326.1,581.8 331.0,558.0 336.0,534.6 341.5,510.0 346.6,487.3 350.5,465.0 353.0,450.0 354.5,441.0" fill="none" stroke="#000080" stroke-width="3.1" stroke-linejoin="round" stroke-linecap="round" />
<polyline points="105.0,716.5 200.0,688.3 320.0,652.7 375.2,631.5 378.6,605.5 383.3,581.8 390.0,558.0 398.7,534.6 408.0,511.0 417.6,487.3 426.0,465.0 432.0,450.0 436.1,441.0" fill="none" stroke="#00ffff" stroke-width="3.1" stroke-linejoin="round" stroke-linecap="round" />
<polyline points="105.0,731.5 200.0,703.4 240.0,692.3 265.0,685.5 330.0,664.6 360.0,655.1 385.0,646.0 415.0,635.6 421.0,633.4 429.5,629.1 433.2,622.7 435.9,602.7 442.3,570.0 454.1,530.0 456.6,521.8 461.5,505.5 462.4,497.3 464.8,489.1 471.4,472.7 479.5,458.0 484.5,449.8 486.1,441.0" fill="none" stroke="#ff00ff" stroke-width="3.1" stroke-linejoin="round" stroke-linecap="round" />
<polyline points="105.0,741.5 200.0,712.0 240.0,701.4 265.0,695.5 330.0,673.9 360.0,666.5 385.0,657.2 415.0,647.1 453.8,631.8 465.2,620.4 469.6,611.4 480.3,560.5 487.7,538.2 494.3,526.7 499.2,508.7 504.1,496.5 506.6,492.4 513.9,482.6 519.6,469.5 522.1,464.5 530.3,458.0 539.3,441.0" fill="none" stroke="#ff0000" stroke-width="3.1" stroke-linejoin="round" stroke-linecap="round" />
<polyline points="105.0,736.0 200.0,707.6 240.0,696.8 265.0,691.4 330.0,669.0 360.0,662.5 385.0,654.7 415.0,645.2 466.7,626.0 471.0,600.0 478.0,568.0 485.3,538.2 487.7,528.4 490.2,520.2 494.3,505.5 498.4,489.1 501.6,476.0 503.3,471.1 504.1,464.5 505.7,459.6 508.2,454.7 509.8,448.2 509.8,441.0" fill="none" stroke="#ffff00" stroke-width="3.1" stroke-linejoin="round" stroke-linecap="round" />
<polyline points="105.0,747.5 200.0,718.0 240.0,707.3 265.0,701.4 330.0,678.8 360.0,669.5 385.0,660.5 415.0,650.9 478.6,627.0 478.6,620.9 487.7,580.9 493.2,557.3 501.4,540.9 504.1,531.7 510.6,513.6 517.2,497.3 522.1,485.8 525.4,479.3 531.1,472.7 535.2,469.5 540.0,458.0" fill="none" stroke="#00ff00" stroke-width="3.1" stroke-linejoin="round" stroke-linecap="round" />
<polyline points="105.0,744.5 200.0,715.5 240.0,705.0 265.0,699.1 330.0,678.3 360.0,670.6 385.0,662.6 415.0,653.4 487.5,625.5 489.5,622.7 493.2,602.7 501.4,566.4 509.0,538.2 511.5,531.7 518.0,513.6 525.4,497.3 530.3,489.1 535.2,479.3 540.0,469.5" fill="none" stroke="#0000ff" stroke-width="3.1" stroke-linejoin="round" stroke-linecap="round" />
<polyline points="105.0,751.5 200.0,722.7 240.0,711.8 265.0,705.5 330.0,684.3 360.0,675.6 385.0,667.0 415.0,657.7 425.8,653.6 505.9,622.9 510.5,602.7 516.8,566.4 520.0,550.0 525.4,538.2 530.3,530.0 535.2,521.8 540.0,512.0" fill="none" stroke="#000000" stroke-width="3.1" stroke-linejoin="round" stroke-linecap="round" />
</g>
<rect x="105.7" y="442.2" width="433.8" height="311.59999999999997" fill="none" stroke="#000" stroke-width="2.6"/>
<line x1="107.00" y1="743.63" x2="111.80" y2="743.63" stroke="#000" stroke-width="2.2" stroke-linecap="butt"/>
<line x1="107.00" y1="730.64" x2="111.80" y2="730.64" stroke="#000" stroke-width="2.2" stroke-linecap="butt"/>
<line x1="107.00" y1="719.13" x2="111.80" y2="719.13" stroke="#000" stroke-width="2.2" stroke-linecap="butt"/>
<line x1="107.00" y1="708.81" x2="111.80" y2="708.81" stroke="#000" stroke-width="2.2" stroke-linecap="butt"/>
<line x1="107.00" y1="699.46" x2="111.80" y2="699.46" stroke="#000" stroke-width="2.2" stroke-linecap="butt"/>
<line x1="107.00" y1="690.90" x2="111.80" y2="690.90" stroke="#000" stroke-width="2.2" stroke-linecap="butt"/>
<line x1="107.00" y1="683.01" x2="111.80" y2="683.01" stroke="#000" stroke-width="2.2" stroke-linecap="butt"/>
<line x1="107.00" y1="675.70" x2="117.80" y2="675.70" stroke="#000" stroke-width="2.2" stroke-linecap="butt"/>
<line x1="107.00" y1="658.16" x2="111.80" y2="658.16" stroke="#000" stroke-width="2.2" stroke-linecap="butt"/>
<line x1="107.00" y1="643.23" x2="111.80" y2="643.23" stroke="#000" stroke-width="2.2" stroke-linecap="butt"/>
<line x1="107.00" y1="630.24" x2="111.80" y2="630.24" stroke="#000" stroke-width="2.2" stroke-linecap="butt"/>
<line x1="107.00" y1="618.73" x2="111.80" y2="618.73" stroke="#000" stroke-width="2.2" stroke-linecap="butt"/>
<line x1="107.00" y1="608.41" x2="111.80" y2="608.41" stroke="#000" stroke-width="2.2" stroke-linecap="butt"/>
<line x1="107.00" y1="599.06" x2="111.80" y2="599.06" stroke="#000" stroke-width="2.2" stroke-linecap="butt"/>
<line x1="107.00" y1="590.50" x2="111.80" y2="590.50" stroke="#000" stroke-width="2.2" stroke-linecap="butt"/>
<line x1="107.00" y1="582.61" x2="111.80" y2="582.61" stroke="#000" stroke-width="2.2" stroke-linecap="butt"/>
<line x1="107.00" y1="575.30" x2="117.80" y2="575.30" stroke="#000" stroke-width="2.2" stroke-linecap="butt"/>
<line x1="107.00" y1="557.76" x2="111.80" y2="557.76" stroke="#000" stroke-width="2.2" stroke-linecap="butt"/>
<line x1="107.00" y1="542.83" x2="111.80" y2="542.83" stroke="#000" stroke-width="2.2" stroke-linecap="butt"/>
<line x1="107.00" y1="529.84" x2="111.80" y2="529.84" stroke="#000" stroke-width="2.2" stroke-linecap="butt"/>
<line x1="107.00" y1="518.33" x2="111.80" y2="518.33" stroke="#000" stroke-width="2.2" stroke-linecap="butt"/>
<line x1="107.00" y1="508.01" x2="111.80" y2="508.01" stroke="#000" stroke-width="2.2" stroke-linecap="butt"/>
<line x1="107.00" y1="498.66" x2="111.80" y2="498.66" stroke="#000" stroke-width="2.2" stroke-linecap="butt"/>
<line x1="107.00" y1="490.10" x2="111.80" y2="490.10" stroke="#000" stroke-width="2.2" stroke-linecap="butt"/>
<line x1="107.00" y1="482.21" x2="111.80" y2="482.21" stroke="#000" stroke-width="2.2" stroke-linecap="butt"/>
<line x1="107.00" y1="474.90" x2="117.80" y2="474.90" stroke="#000" stroke-width="2.2" stroke-linecap="butt"/>
<line x1="107.00" y1="457.36" x2="111.80" y2="457.36" stroke="#000" stroke-width="2.2" stroke-linecap="butt"/>
<line x1="165.81" y1="752.50" x2="165.81" y2="749.70" stroke="#000" stroke-width="2.2" stroke-linecap="butt"/>
<line x1="224.71" y1="752.50" x2="224.71" y2="747.00" stroke="#000" stroke-width="2.2" stroke-linecap="butt"/>
<line x1="283.62" y1="752.50" x2="283.62" y2="749.70" stroke="#000" stroke-width="2.2" stroke-linecap="butt"/>
<line x1="342.52" y1="752.50" x2="342.52" y2="747.00" stroke="#000" stroke-width="2.2" stroke-linecap="butt"/>
<line x1="401.43" y1="752.50" x2="401.43" y2="749.70" stroke="#000" stroke-width="2.2" stroke-linecap="butt"/>
<line x1="460.33" y1="752.50" x2="460.33" y2="747.00" stroke="#000" stroke-width="2.2" stroke-linecap="butt"/>
<line x1="519.24" y1="752.50" x2="519.24" y2="749.70" stroke="#000" stroke-width="2.2" stroke-linecap="butt"/>
<text x="90.30" y="481.80" font-size="22" text-anchor="end" >20.09</text>
<text x="90.30" y="582.20" font-size="22" text-anchor="end" >7.39</text>
<text x="90.30" y="682.60" font-size="22" text-anchor="end" >2.72</text>
<text x="106.90" y="776.30" font-size="22.5" text-anchor="middle" >273</text>
<text x="224.71" y="776.30" font-size="22.5" text-anchor="middle" >276</text>
<text x="342.52" y="776.30" font-size="22.5" text-anchor="middle" >279</text>
<text x="460.33" y="776.30" font-size="22.5" text-anchor="middle" >282</text>
<text transform="translate(29.3,597.5) rotate(-90)" font-size="27.2" text-anchor="middle">Ln(<tspan font-style="italic">P</tspan>)/Ln(MPa)</text>
<text x="299.4" y="800.5" font-size="27.5"><tspan font-style="italic">T</tspan><tspan font-size="18" dy="-8.3">eq</tspan><tspan dy="8.3">/K</tspan></text>
<text x="118.00" y="471.20" font-size="23.8" text-anchor="start" >(b)</text>
<text x="24.00" y="826.40" font-size="13.4" text-anchor="start" >2 wt%</text>
<text x="98.20" y="826.40" font-size="13.4" text-anchor="start" >5 wt%</text>
<text x="174.00" y="826.40" font-size="13.4" text-anchor="start" >10 wt%</text>
<text x="248.20" y="826.40" font-size="13.4" text-anchor="start" >This study</text>
<line x1="23.20" y1="838.10" x2="55.90" y2="838.10" stroke="#000" stroke-width="2.5" stroke-linecap="butt"/>
<line x1="23.20" y1="855.00" x2="55.90" y2="855.00" stroke="#ff0000" stroke-width="2.5" stroke-linecap="butt"/>
<line x1="23.20" y1="872.20" x2="55.90" y2="872.20" stroke="#00ff00" stroke-width="2.5" stroke-linecap="butt"/>
<line x1="96.80" y1="838.10" x2="128.70" y2="838.10" stroke="#0000ff" stroke-width="2.5" stroke-linecap="butt"/>
<line x1="96.80" y1="855.00" x2="128.70" y2="855.00" stroke="#00ffff" stroke-width="2.5" stroke-linecap="butt"/>
<line x1="96.80" y1="872.20" x2="128.70" y2="872.20" stroke="#ff00ff" stroke-width="2.5" stroke-linecap="butt"/>
<line x1="170.50" y1="838.10" x2="202.40" y2="838.10" stroke="#ffff00" stroke-width="2.5" stroke-linecap="butt"/>
<line x1="170.50" y1="855.00" x2="202.40" y2="855.00" stroke="#808000" stroke-width="2.5" stroke-linecap="butt"/>
<line x1="170.50" y1="872.20" x2="202.40" y2="872.20" stroke="#000080" stroke-width="2.5" stroke-linecap="butt"/>
<text x="248.20" y="842.70" font-size="13.4" text-anchor="start" >Method 1</text>
<text x="248.20" y="860.40" font-size="13.4" text-anchor="start" >Method 2</text>
<text x="248.20" y="876.80" font-size="13.4" text-anchor="start" >Method 3</text>
<rect x="34.60" y="884.20" width="9.60" height="9.60" fill="none" stroke="#ff3333" stroke-width="1.1"/><circle cx="39.40" cy="889.00" r="0.6" fill="#ff3333"/>
<text x="58.00" y="893.60" font-size="13.4" text-anchor="start" >2 wt%, Guembaroski, 2017; Sun, 2016</text>
<circle cx="39.40" cy="906.00" r="5.50" fill="none" stroke="#22ee22" stroke-width="1.2"/><circle cx="39.40" cy="906.00" r="0.6" fill="#22ee22"/>
<text x="58.00" y="910.10" font-size="13.4" text-anchor="start" >5 wt%, Guembaroski, 2017; Bozzo, 1975; Cordeiro, 2020; Croeser, 2019; Sabil, 2009;</text>
<text x="24.60" y="925.90" font-size="13.4" text-anchor="start" >Dholabhai, 1993; Mohammadi, 2008; Burgass, 2023; Wang, 2023</text>
<polygon points="39.40,931.60 45.46,942.10 33.34,942.10" fill="none" stroke="#2222ee" stroke-width="1.2" stroke-linejoin="miter"/><circle cx="39.40" cy="938.60" r="0.6" fill="#2222ee"/>
<text x="58.00" y="943.20" font-size="13.4" text-anchor="start" >Guembaroski, 2017; Cordeiro, 2020; Tohidi, 1997; Sabil, 2009; Dholabhai, 1993;</text>
<text x="24.60" y="957.70" font-size="13.4" text-anchor="start" >Englezos, 1994; Nakane 2019; Burgass, 2023; Li 2022</text>
</svg></body></html>
